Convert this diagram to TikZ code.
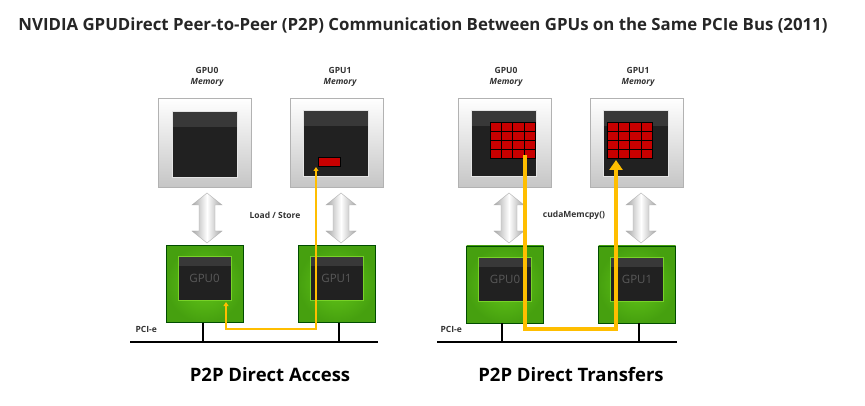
\documentclass[tikz,border=0pt]{standalone}
\usepackage{fontspec}
\setmainfont{Open Sans}
\usetikzlibrary{arrows.meta}
\begin{document}
\begin{tikzpicture}[x=1pt,y=-1pt,
  memout/.style={draw=gray!60,top color=white,bottom color=gray!45,minimum width=93pt,minimum height=89pt,inner sep=0pt},
  memin/.style={draw=gray!20,fill=black!87,minimum width=65pt,minimum height=66pt,inner sep=0pt,
     path picture={\fill[black!78] (path picture bounding box.north west) rectangle ([yshift=-16pt]path picture bounding box.north east);}},
  gpuout/.style={draw=green!30!black,inner color={rgb,255:red,100;green,200;blue,25},outer color={rgb,255:red,70;green,160;blue,15},minimum width=77pt,minimum height=77pt,inner sep=0pt},
  gpuin/.style={draw={rgb,255:red,120;green,210;blue,40},fill=black!87,minimum width=53pt,minimum height=44pt,inner sep=0pt,
     text=black!65,font=\fontsize{11.5}{12}\selectfont,
     path picture={\fill[black!78] (path picture bounding box.north west) rectangle ([yshift=-10pt]path picture bounding box.north east);}},
  lab/.style={font=\fontsize{8.5}{10.5}\selectfont\bfseries,align=center,text=black!80},
  cell/.style={fill={rgb,255:red,200;green,0;blue,0},draw=black,line width=0.5pt},
  bus/.style={line width=2.2pt,black},
  dbl/.style={left color=gray!70,right color=gray!70,middle color=white,draw=gray!60},
  capt/.style={font=\fontsize{18.5}{20}\selectfont\bfseries},
  yl/.style={draw={rgb,255:red,255;green,190;blue,0}}
]
\useasboundingbox (0,0) rectangle (865,406);
\node[font=\fontsize{16.8}{18}\selectfont\bfseries,text=black!85] (title) at (423,25) {NVIDIA GPUDirect Peer-to-Peer (P2P) Communication Between GPUs on the Same PCIe Bus (2011)};

\foreach \x in {207,341,509,641}{
  \path[dbl] (\x,193) -- (\x+15,205) -- (\x+8,205) -- (\x+8,231) -- (\x+15,231) -- (\x,243) -- (\x-15,231) -- (\x-8,231) -- (\x-8,205) -- (\x-15,205) -- cycle;
}

% LEFT
\node[lab] (l0ml) at (207,77) {GPU0\\\itshape Memory};
\node[lab] (l1ml) at (340,77) {GPU1\\\itshape Memory};
\node[memout] (l0m) at (204.5,142.5) {};
\node[memin] (l0mi) at (204.5,144.5) {};
\node[memout] (l1m) at (337,142.5) {};
\node[memin] (l1mi) at (336,143.5) {};
\node[cell,minimum width=22pt,minimum height=9pt,inner sep=0pt] (red) at (329,161.5) {};
\node[lab] (ls) at (275,215) {Load / Store};
\node[gpuout] (l0g) at (204.5,284) {};
\node[gpuin] (l0gi) at (204.5,278) {GPU0};
\node[gpuout] (l1g) at (337,284) {};
\node[gpuin] (l1gi) at (336.5,278.5) {GPU1};
\node[lab,anchor=west] (lp) at (132,329) {PCI-e};
\coordinate (lb0) at (130,342); \coordinate (lb1) at (378,342);
\draw[bus] (lb0) -- (lb1);
\draw[bus] (203,322.5) -- (203,342);
\draw[bus] (339,322.5) -- (339,342);
\draw[yl,line width=1.1pt,{Triangle[width=5pt,length=4pt]}-{Triangle[width=5pt,length=4pt]}] (226,302) -- (226,329) -- (316,329) -- (316,167);
\node[capt] (c1) at (270,375) {P2P Direct Access};

% RIGHT
\node[lab] (r0ml) at (506,77) {GPU0\\\itshape Memory};
\node[lab] (r1ml) at (638,77) {GPU1\\\itshape Memory};
\node[memout] (r0m) at (505,143) {};
\node[memin] (r0mi) at (504,143.5) {};
\node[memout] (r1m) at (637,143) {};
\node[memin] (r1mi) at (636,143.5) {};
\foreach \gx in {490,607}{
  \foreach \i in {0,...,3}{\foreach \j in {0,...,3}{
    \path[cell] (\gx+\i*11.3,122+\j*9.1) rectangle ++(11.3,9.1);
  }}
}
\node[lab] (cm) at (574,215) {cudaMemcpy()};
\node[gpuout] (r0g) at (505,284.5) {};
\node[gpuin] (r0gi) at (505,279) {GPU0};
\node[gpuout] (r1g) at (637,284.5) {};
\node[gpuin] (r1gi) at (637,279) {GPU1};
\node[lab,anchor=west] (rp) at (437,329) {PCI-e};
\coordinate (rb0) at (437,342); \coordinate (rb1) at (677,342);
\draw[bus] (rb0) -- (rb1);
\draw[bus] (502,323) -- (502,342);
\draw[bus] (639,323) -- (639,342);
\draw[yl,line width=4pt,-{Triangle[width=13pt,length=10pt]}] (525,155) -- (525,329) -- (616,329) -- (616,160);
\node[capt] (c2) at (571,375) {P2P Direct Transfers};
\end{tikzpicture}
\end{document}
